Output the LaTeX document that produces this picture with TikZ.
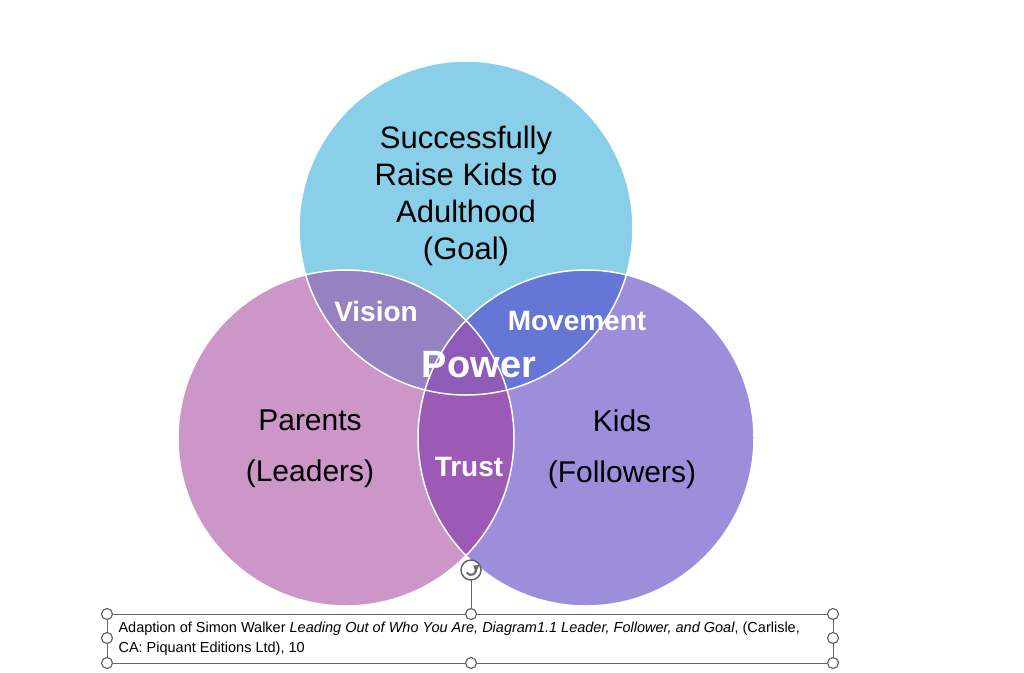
\documentclass[tikz,border=0pt]{standalone}
\usepackage{fontspec}
\setmainfont{Liberation Sans}
\usetikzlibrary{arrows.meta}
\begin{document}
\begin{tikzpicture}[x=1pt,y=-1pt,
  lbl/.style={font=\fontsize{31}{37}\selectfont,align=center,text=black},
  wlbl/.style={font=\bfseries\fontsize{28}{30}\selectfont,text=white},
  hdl/.style={circle,draw=gray!80!black,fill=white,line width=1.2pt,minimum size=11pt,inner sep=0pt}]
\useasboundingbox (0,0) rectangle (1024,672);
\fill[white] (0,0) rectangle (1024,672);
\def\T{(466,228) circle (167)}
\def\L{(346,438) circle (168)}
\def\R{(586,438) circle (168)}
\definecolor{cT}{HTML}{89CFEA}
\definecolor{cL}{HTML}{CC96C8}
\definecolor{cR}{HTML}{9C8EDA}
\fill[cT] \T; \fill[cL] \L; \fill[cR] \R;
\begin{scope}\clip \T; \fill[fill={rgb,255:red,150;green,130;blue,192}] \L; \end{scope}
\begin{scope}\clip \T; \fill[fill={rgb,255:red,102;green,118;blue,214}] \R; \end{scope}
\begin{scope}\clip \L; \fill[fill={rgb,255:red,156;green,90;blue,182}] \R; \end{scope}
\begin{scope}\clip \T; \clip \L; \fill[fill={rgb,255:red,142;green,92;blue,184}] \R; \end{scope}
\draw[white,line width=1.5pt] \T \L \R;
\node[lbl] (goal) at (466,196) {Successfully\\Raise Kids to\\Adulthood\\(Goal)};
\node[lbl,font=\fontsize{30}{51}\selectfont] (par) at (310,449) {Parents\\(Leaders)};
\node[lbl,font=\fontsize{30}{51}\selectfont] (kids) at (622,449) {Kids\\(Followers)};
\node[wlbl] (vis) at (376,311) {Vision};
\node[wlbl] (mov) at (577,321) {Movement};
\node[wlbl,font=\bfseries\fontsize{38}{40}\selectfont] (pow) at (479,365) {Power};
\node[wlbl] (tru) at (469,467) {Trust};
% text box
\draw[gray!80!black,line width=1pt] (107,614) rectangle (833,663);
\draw[gray!80!black,line width=1pt] (471,580) -- (471,614);
\node[align=left,anchor=west,font=\fontsize{14.5}{20}\selectfont] (cap) at (115,638.5) {Adaption of Simon Walker \textit{Leading Out of Who You Are, Diagram1.1 Leader, Follower, and Goal}, (Carlisle,\\CA: Piquant Editions Ltd), 10};
\foreach \x/\y/\n in {107/614/a,471/614/b,833/614/c,107/638/d,833/638/e,107/663/f,471/663/g,833/663/h}
  \node[hdl] (h\n) at (\x,\y) {};
\node[circle,fill=white,draw=gray!80!black,line width=1.5pt,minimum size=20pt,inner sep=0pt] (rot) at (471,570) {};
\draw[gray!80!black,line width=2pt,-{Triangle[length=5pt,width=7pt]}] (rot.center) ++(150:5) arc (150:-60:5);
\end{tikzpicture}
\end{document}
